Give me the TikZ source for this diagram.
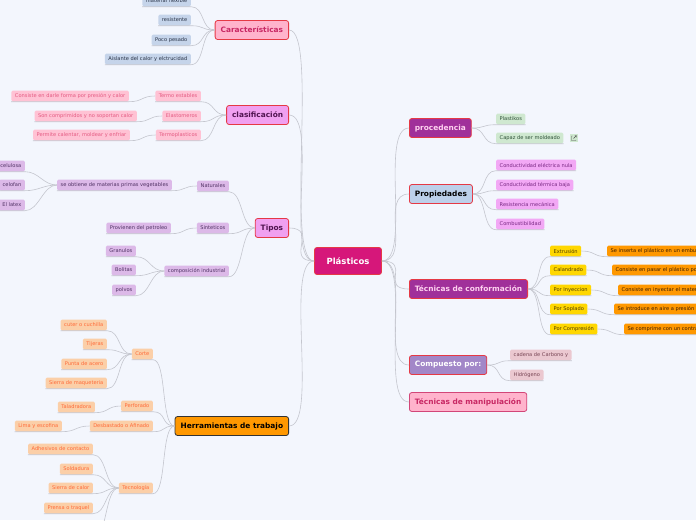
\documentclass[tikz,border=0pt]{standalone}
\usepackage{fontspec}
\setmainfont{DejaVu Sans}
\definecolor{bg}{HTML}{F3F6FD}
\definecolor{ln}{HTML}{C4C6CE}
\definecolor{redb}{HTML}{E53945}
\tikzset{
 base/.style={rounded corners=1.5pt,inner xsep=3.5pt,inner ysep=0pt,minimum height=11pt,font=\fontsize{5.1}{6}\selectfont},
 mainn/.style={rounded corners=2.5pt,draw=redb,line width=0.8pt,minimum height=19pt,inner xsep=5.5pt,font=\fontsize{7.4}{8.5}\selectfont\bfseries},
 blue/.style={base,fill={rgb,255:red,197;green,212;blue,234},text={rgb,255:red,40;green,50;blue,70}},
 pk/.style={base,fill={rgb,255:red,255;green,194;blue,212},text={rgb,255:red,228;green,90;blue,130}},
 pu/.style={base,fill={rgb,255:red,220;green,185;blue,232},text={rgb,255:red,80;green,50;blue,100}},
 pe/.style={base,fill={rgb,255:red,251;green,207;blue,168},text={rgb,255:red,255;green,105;blue,55}},
 gr/.style={base,fill={rgb,255:red,207;green,232;blue,208},text={rgb,255:red,45;green,80;blue,55}},
 mg/.style={base,fill={rgb,255:red,242;green,168;blue,245},text={rgb,255:red,120;green,40;blue,130}},
 ye/.style={base,fill={rgb,255:red,255;green,215;blue,0},text={rgb,255:red,80;green,60;blue,0}},
 or/.style={base,fill={rgb,255:red,255;green,152;blue,0},text={rgb,255:red,60;green,30;blue,0}},
 ro/.style={base,fill={rgb,255:red,235;green,200;blue,208},text={rgb,255:red,120;green,70;blue,85}},
 cn/.style={draw=ln,line width=0.6pt},
}
\newcommand{\lk}[2]{\draw[cn] (#1.west) .. controls +(-14,0) and +(14,0) .. (#2.south east) -- (#2.south west);}
\newcommand{\rk}[2]{\draw[cn] (#1.east) .. controls +(14,0) and +(-14,0) .. (#2.south west) -- (#2.south east);}
\begin{document}
\begin{tikzpicture}[x=1pt,y=-1pt]
\useasboundingbox (0,0) rectangle (696,520);
\clip (0,0) rectangle (696,520);
\fill[bg] (0,0) rectangle (696,520);
% central
\node[mainn,fill={rgb,255:red,214;green,23;blue,122},text=white,minimum width=67pt,minimum height=27pt,font=\fontsize{8.5}{9}\selectfont\bfseries] (c) at (348,261) {Plásticos};
% left main
\node[mainn,anchor=east,fill={rgb,255:red,255;green,179;blue,204},text={rgb,255:red,200;green,40;blue,100}] (car) at (289,30) {Características};
\node[mainn,anchor=east,fill={rgb,255:red,240;green,160;blue,240},text={rgb,255:red,80;green,20;blue,80}] (cla) at (289,115) {clasificación};
\node[mainn,anchor=east,fill={rgb,255:red,240;green,160;blue,240},text={rgb,255:red,80;green,20;blue,80}] (tip) at (289,228) {Tipos};
\node[mainn,anchor=east,draw=black!80,fill={rgb,255:red,255;green,152;blue,0},text=black] (her) at (289,426) {Herramientas de trabajo};
% right main
\node[mainn,anchor=west,fill={rgb,255:red,160;green,48;blue,154},text={rgb,255:red,255;green,210;blue,240}] (pro) at (409,128) {procedencia};
\node[mainn,anchor=west,fill={rgb,255:red,188;green,208;blue,234},text=black] (prp) at (409,194) {Propiedades};
\node[mainn,anchor=west,fill={rgb,255:red,160;green,48;blue,154},text={rgb,255:red,255;green,210;blue,240}] (tec) at (409,289) {Técnicas de conformación};
\node[mainn,anchor=west,fill={rgb,255:red,162;green,135;blue,200},text=white] (com) at (409,365) {Compuesto por:};
\node[mainn,anchor=west,draw={rgb,255:red,210;green,70;blue,120},fill={rgb,255:red,255;green,179;blue,204},text={rgb,255:red,200;green,40;blue,100}] (man) at (409,402) {Técnicas de manipulación};
\foreach \n in {car,cla,tip,her} {\draw[cn] (c.west) .. controls +(-30,0) and +(30,0) .. (\n.east);}
\foreach \n in {pro,prp,tec,com,man} {\draw[cn] (c.east) .. controls +(30,0) and +(-30,0) .. (\n.west);}
% Caracteristicas
\node[blue,anchor=east] (a1) at (191,1) {material flexible};
\node[blue,anchor=east] (a2) at (191,20) {resistente};
\node[blue,anchor=east] (a3) at (191,40) {Poco pesado};
\node[blue,anchor=east] (a4) at (191,59) {Aislante del calor y elctrucidad};
\foreach \n in {a1,a2,a3,a4} {\lk{car}{\n}}
% clasificacion
\node[pk,anchor=east] (b1) at (201,96) {Termo estables};
\node[pk,anchor=east] (b2) at (201,116) {Elastomeros};
\node[pk,anchor=east] (b3) at (201,135) {Termoplasticos};
\node[pk,anchor=east] (b1a) at (129,96) {Consiste en darle forma por presión y calor};
\node[pk,anchor=east] (b2a) at (137,116) {Son comprimidos y no soportan calor};
\node[pk,anchor=east] (b3a) at (130,135) {Permite calentar, moldear y enfriar};
\foreach \n in {b1,b2,b3} {\lk{cla}{\n}}
\lk{b1}{b1a}\lk{b2}{b2a}\lk{b3}{b3a}
% Tipos
\node[pu,anchor=east] (t1) at (229,186) {Naturales};
\node[pu,anchor=east] (t2) at (229,228) {Sinteticos};
\node[pu,anchor=east] (t3) at (229,271) {composición industrial};
\foreach \n in {t1,t2,t3} {\lk{tip}{\n}}
\node[pu,anchor=east] (t1a) at (172,185) {se obtiene de materias primas vegetables};
\lk{t1}{t1a}
\node[pu,anchor=east] (n1) at (25,166) {celulosa};
\node[pu,anchor=east] (n2) at (25,185) {celofan};
\node[pu,anchor=east] (n3) at (25,205) {El latex};
\foreach \n in {n1,n2,n3} {\lk{t1a}{\n}}
\node[pu,anchor=east] (t2a) at (171,228) {Provienen del petroleo};
\lk{t2}{t2a}
\node[pu,anchor=east] (g1) at (136,251) {Granulos};
\node[pu,anchor=east] (g2) at (136,270) {Bolitas};
\node[pu,anchor=east] (g3) at (136,290) {polvos};
\foreach \n in {g1,g2,g3} {\lk{t3}{\n}}
% Herramientas
\node[pe,anchor=east] (h1) at (153,354) {Corte};
\node[pe,anchor=east] (h2) at (153,406) {Perforado};
\node[pe,anchor=east] (h3) at (153,426) {Desbastado o Afinado};
\node[pe,anchor=east] (h4) at (153,488) {Tecnología};
\foreach \n in {h1,h2,h3,h4} {\lk{her}{\n}}
\node[pe,anchor=east] (k1) at (107,325) {cuter o cuchilla};
\node[pe,anchor=east] (k2) at (107,344) {Tijeras};
\node[pe,anchor=east] (k3) at (107,364) {Punta de acero};
\node[pe,anchor=east] (k4) at (107,383) {Sierra de maqueteria};
\foreach \n in {k1,k2,k3,k4} {\lk{h1}{\n}}
\node[pe,anchor=east] (p1) at (95,407) {Taladradora};
\lk{h2}{p1}
\node[pe,anchor=east] (d1) at (62,426) {Lima y escofina};
\lk{h3}{d1}
\node[pe,anchor=east] (e1) at (93,449) {Adhesivos de contacto};
\node[pe,anchor=east] (e2) at (93,469) {Soldadura};
\node[pe,anchor=east] (e3) at (93,488) {Sierra de calor};
\node[pe,anchor=east] (e4) at (93,508) {Prensa o traquel};
\foreach \n in {e1,e2,e3,e4} {\lk{h4}{\n}}
\coordinate (e5) at (93,540);
\draw[cn] (h4.west) .. controls +(-14,0) and +(14,0) .. (e5);
% procedencia
\node[gr,anchor=west] (r1) at (496,119) {Plastikos};
\node[gr,anchor=west] (r2) at (496,138) {Capaz de ser moldeado};
\rk{pro}{r1}\rk{pro}{r2}
\node[fill={rgb,255:red,207;green,232;blue,208},minimum size=8pt,inner sep=0pt] (ic) at (574,138) {};
\draw[black!70,line width=0.4pt] (572.5,136) -- (571.5,136) -- (571.5,140.5) -- (576,140.5) -- (576,139.5) (573.5,138.5) -- (576.5,135.5) (574.5,135.5) -- (576.5,135.5) -- (576.5,137.5);
% propiedades
\node[mg,anchor=west] (q1) at (496,165) {Conductividad eléctrica nula};
\node[mg,anchor=west] (q2) at (496,185) {Conductividad térmica baja};
\node[mg,anchor=west] (q3) at (496,204) {Resistencia mecánica};
\node[mg,anchor=west] (q4) at (496,224) {Combustibilidad};
\foreach \n in {q1,q2,q3,q4} {\rk{prp}{\n}}
% tecnicas
\node[ye,anchor=west] (y1) at (550,251) {Extrusión};
\node[ye,anchor=west] (y2) at (550,270) {Calandrado};
\node[ye,anchor=west] (y3) at (550,290) {Por Inyeccion};
\node[ye,anchor=west] (y4) at (550,309) {Por Soplado};
\node[ye,anchor=west] (y5) at (550,329) {Por Compresión};
\foreach \n in {y1,y2,y3,y4,y5} {\rk{tec}{\n}}
\node[or,anchor=west] (o1) at (607,251) {Se inserta el plástico en un embudo};
\node[or,anchor=west] (o2) at (612,270) {Consiste en pasar el plástico por rodillos};
\node[or,anchor=west] (o3) at (618,290) {Consiste en inyectar el material fundido};
\node[or,anchor=west] (o4) at (614,309) {Se introduce en aire a presión};
\node[or,anchor=west] (o5) at (624,329) {Se comprime con un contramolde};
\rk{y1}{o1}\rk{y2}{o2}\rk{y3}{o3}\rk{y4}{o4}\rk{y5}{o5}
% compuesto
\node[ro,anchor=west] (m1) at (510,355) {cadena de Carbono y};
\node[ro,anchor=west] (m2) at (510,375) {Hidrógeno};
\rk{com}{m1}\rk{com}{m2}
\end{tikzpicture}
\end{document}
